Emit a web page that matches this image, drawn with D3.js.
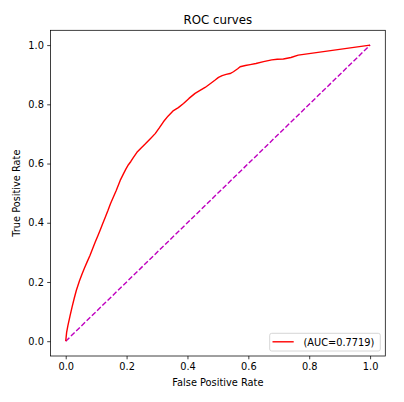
<!DOCTYPE html>
<html>
<head>
<meta charset="utf-8">
<script src="https://cdn.jsdelivr.net/npm/d3@7"></script>
<style>
  body { margin: 0; background: #fff; }
  svg { display: block; font-family: "DejaVu Sans", sans-serif; }
</style>
</head>
<body>
<svg id="chart" width="404" height="402"></svg>
<script>
// ROC curve points (false positive rate, true positive rate)
const fpr = [0, 0.003, 0.007, 0.014, 0.021, 0.028, 0.035, 0.045, 0.054, 0.062, 0.070, 0.080,
  0.087, 0.097, 0.106, 0.114, 0.122, 0.130, 0.139, 0.147, 0.157, 0.166, 0.179, 0.190,
  0.198, 0.206, 0.214, 0.222, 0.234, 0.247, 0.261, 0.278, 0.294, 0.308, 0.321, 0.336,
  0.354, 0.370, 0.387, 0.405, 0.425, 0.440, 0.458, 0.478, 0.491, 0.502, 0.514, 0.527,
  0.540, 0.551, 0.565, 0.573, 0.590, 0.606, 0.625, 0.650, 0.677, 0.695, 0.715, 0.740,
  0.764, 1.0];
const tpr = [0, 0.030, 0.052, 0.085, 0.116, 0.145, 0.172, 0.203, 0.228, 0.248, 0.267, 0.290,
  0.309, 0.335, 0.357, 0.377, 0.398, 0.419, 0.442, 0.464, 0.488, 0.509, 0.543, 0.566,
  0.582, 0.596, 0.607, 0.620, 0.638, 0.652, 0.666, 0.684, 0.701, 0.721, 0.741, 0.760,
  0.779, 0.789, 0.803, 0.820, 0.837, 0.846, 0.857, 0.872, 0.882, 0.891, 0.897, 0.901,
  0.904, 0.910, 0.920, 0.927, 0.931, 0.934, 0.938, 0.944, 0.950, 0.952, 0.953, 0.958,
  0.966, 1.0];
const chance = [0, 1];
const ticks = [0, 0.2, 0.4, 0.6, 0.8, 1.0];
const aucLabel = "(AUC=0.7719)";

const svg = d3.select("#chart");
const m = { left: 50.5, right: 385.3, top: 30.3, bottom: 356 };
const fs = "9.8px";

const x = d3.scaleLinear().domain([-0.05, 1.05]).range([m.left, m.right]);
const y = d3.scaleLinear().domain([-0.05, 1.05]).range([m.bottom, m.top]);

// chance diagonal
svg.append("path")
  .datum(chance)
  .attr("d", d3.line().x(d => x(d)).y(d => y(d)))
  .attr("fill", "none")
  .attr("stroke", "#bf00bf")
  .attr("stroke-width", 1.4)
  .attr("stroke-dasharray", "5.1,2.2");

// ROC curve
svg.append("path")
  .datum(d3.zip(fpr, tpr))
  .attr("d", d3.line().x(d => x(d[0])).y(d => y(d[1])))
  .attr("fill", "none")
  .attr("stroke", "#ff0000")
  .attr("stroke-width", 1.4)
  .attr("stroke-linejoin", "round");

// axes
const xAxis = svg.append("g")
  .attr("transform", `translate(0,${m.bottom})`)
  .call(d3.axisBottom(x).tickValues(ticks).tickFormat(d3.format(".1f")).tickSize(3.3).tickPadding(3.3));
const yAxis = svg.append("g")
  .attr("transform", `translate(${m.left},0)`)
  .call(d3.axisLeft(y).tickValues(ticks).tickFormat(d3.format(".1f")).tickSize(3.3).tickPadding(3.3));

[xAxis, yAxis].forEach(g => {
  g.select(".domain").remove();
  g.selectAll("line").attr("stroke", "#000").attr("stroke-width", 0.75);
  g.selectAll("text").attr("fill", "#000").style("font-size", fs).style("font-family", "DejaVu Sans");
});

// frame
svg.append("rect")
  .attr("x", m.left).attr("y", m.top)
  .attr("width", m.right - m.left).attr("height", m.bottom - m.top)
  .attr("fill", "none").attr("stroke", "#000").attr("stroke-width", 0.75);

// labels
svg.append("text")
  .attr("x", (m.left + m.right) / 2).attr("y", 24)
  .attr("text-anchor", "middle").style("font-size", "11.8px")
  .text("ROC curves");
svg.append("text")
  .attr("x", (m.left + m.right) / 2).attr("y", 385.5)
  .attr("text-anchor", "middle").style("font-size", fs)
  .text("False Positive Rate");
svg.append("text")
  .attr("transform", `translate(20,${(m.top + m.bottom) / 2}) rotate(-90)`)
  .attr("text-anchor", "middle").style("font-size", fs)
  .text("True Positive Rate");

// legend
const lg = svg.append("g");
lg.append("rect")
  .attr("x", 269.7).attr("y", 333.3).attr("width", 110.6).attr("height", 17.7).attr("rx", 2)
  .attr("fill", "#fff").attr("fill-opacity", 0.8)
  .attr("stroke", "#cccccc").attr("stroke-width", 0.8);
lg.append("line")
  .attr("x1", 272.5).attr("x2", 293.7).attr("y1", 341.8).attr("y2", 341.8)
  .attr("stroke", "#ff0000").attr("stroke-width", 1.4);
lg.append("text")
  .attr("x", 303.5).attr("y", 345.6).style("font-size", fs)
  .text(aucLabel);
</script>
</body>
</html>
